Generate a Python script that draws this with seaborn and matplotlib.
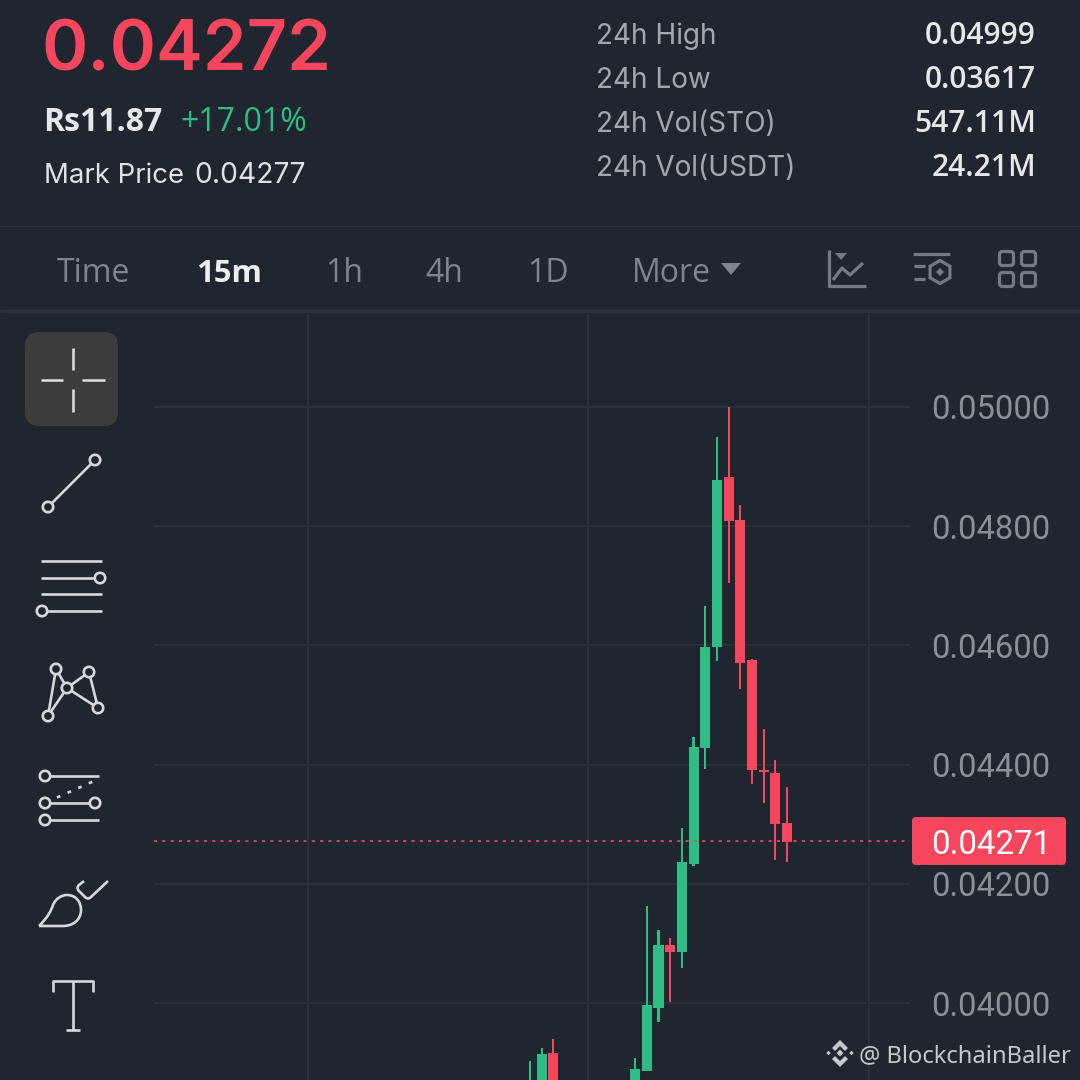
import numpy as np
import pandas as pd
import seaborn as sns
import matplotlib
matplotlib.use("Agg")
import matplotlib.pyplot as plt
from matplotlib.patches import FancyBboxPatch, Circle, Polygon, PathPatch
from matplotlib.path import Path

# ---- data (prices; candles below the view are estimated) ----
candle_idx = [0, 1, 2, 9, 10, 11, 12, 13, 14, 15, 16, 17, 18, 19, 20, 21, 22]
open_p  = [0.03820, 0.03850, 0.039161, 0.03840, 0.038859, 0.039916, 0.040973, 0.040856, 0.042332, 0.044279, 0.045973, 0.048826, 0.048104, 0.045755, 0.043909, 0.043859, 0.04302]
close_p = [0.03850, 0.039144, 0.03850, 0.038893, 0.039966, 0.040973, 0.040856, 0.042366, 0.044295, 0.045973, 0.048775, 0.048087, 0.045705, 0.043909, 0.043876, 0.043003, 0.042701]
high_p  = [0.039027, 0.039245, 0.039396, 0.039077, 0.041628, 0.041225, 0.041091, 0.042936, 0.044463, 0.046661, 0.049497, 0.05000, 0.048356, 0.045772, 0.044597, 0.044077, 0.043624]
low_p   = [0.03810, 0.03830, 0.03830, 0.03820, 0.038859, 0.039681, 0.040017, 0.040587, 0.042299, 0.043926, 0.045738, 0.047047, 0.045268, 0.043674, 0.043356, 0.042399, 0.042366]

y_ticks = [0.05, 0.048, 0.046, 0.044, 0.042, 0.04]
y_tick_labels = ["0.05000", "0.04800", "0.04600", "0.04400", "0.04200", "0.04000"]
x_grid = [-19, 5, 29]
last_price = 0.04271
last_label = "0.04271"

headline = "0.04272"
fiat = "Rs11.87"
change = "+17.01%"
mark_label = "Mark Price"
mark_value = "0.04277"
stat_names = ["24h High", "24h Low", "24h Vol(STO)", "24h Vol(USDT)"]
stat_values = ["0.04999", "0.03617", "547.11M", "24.21M"]
tabs = ["Time", "15m", "1h", "4h", "1D", "More"]
tab_x = [57, 196, 325, 425, 527, 632]
watermark = "@ BlockchainBaller"

# ---- style ----
BG = "#1f2630"
GRID = "#2b323c"
GREEN = "#2EBD85"
RED = "#F6465D"
GREY = "#8b8f96"
LABEL = "#a4a8ae"
TAB = "#7f8590"
ICON = "#d6d8db"
TOP_ICON = "#747a85"
INTER = ["Inter", "DejaVu Sans"]
OPEN = ["Open Sans", "DejaVu Sans"]
W, H = 1080, 1080

sns.set_theme(style="dark", rc={"axes.facecolor": BG, "figure.facecolor": BG})
plt.rcParams["font.family"] = INTER

fig = plt.figure(figsize=(W / 100, H / 100), dpi=100, facecolor=BG)

# ---- chart axes ----
ax = fig.add_axes([154 / W, 0, (910 - 154) / W, (1080 - 312) / H], facecolor=BG)

df = pd.DataFrame({"i": candle_idx, "o": open_p, "c": close_p, "h": high_p, "l": low_p})
df["top"] = df[["o", "c"]].max(axis=1)
df["bot"] = df[["o", "c"]].min(axis=1)
df["up"] = df["c"] >= df["o"]
df = df.sort_values("i")

for is_up, colour in [(True, GREEN), (False, RED)]:
    part = df[df["up"] == is_up].copy()
    part["wick"] = part["h"] - part["l"]
    part["body"] = part["top"] - part["bot"]
    sns.barplot(data=part, x="i", y="wick", bottom=part["l"].to_numpy(), native_scale=True,
                width=0.18, color=colour, saturation=1, errorbar=None, linewidth=0, ax=ax, zorder=3)
    sns.barplot(data=part, x="i", y="body", bottom=part["bot"].to_numpy(), native_scale=True,
                width=0.86, color=colour, saturation=1, errorbar=None, linewidth=0, ax=ax, zorder=4)

ax.hlines(last_price, -32.19, 32.53, color=RED, lw=1.3, alpha=0.9,
          linestyle=(0, (1.7, 2.9)), zorder=5)

ax.set_xlim(-32.19, 32.53)
ax.set_ylim(0.05 - 673 / 59600, 0.05 + 95 / 59600)
ax.set_xlabel("")
ax.set_ylabel("")
ax.set_xticks(x_grid)
ax.set_xticklabels([])
ax.yaxis.tick_right()
ax.set_yticks(y_ticks)
ax.set_yticklabels(y_tick_labels, fontfamily="Roboto", fontsize=23.6, color=GREY)
ax.tick_params(axis="both", length=0)
ax.tick_params(axis="y", pad=15.2)
ax.grid(True, color=GRID, lw=1.4)
ax.set_axisbelow(True)
for s in ax.spines.values():
    s.set_visible(False)

# ---- overlay in pixel coordinates for the app chrome ----
ov = fig.add_axes([0, 0, 1, 1], facecolor="none", zorder=10)
ov.set_xlim(0, W)
ov.set_ylim(H, 0)
ov.axis("off")


def txt(x, y, s, size_px, color, weight="normal", ha="left", family=None, va="baseline"):
    ov.text(x, y, s, fontsize=size_px * 0.72, color=color, fontweight=weight, ha=ha, va=va,
            family=family or INTER)


def line(xs, ys, color=ICON, lw=1.9, **kw):
    ov.plot(xs, ys, color=color, lw=lw, solid_capstyle=kw.pop("cap", "butt"),
            solid_joinstyle="round", **kw)


def ring(x, y, r=5.2, color=ICON, lw=1.9):
    ov.add_patch(Circle((x, y), r, fc=BG, ec=color, lw=lw, zorder=3))


# header
txt(41.5, 70.5, headline, 70.3, RED, "semibold")
txt(43, 131, fiat, 32, "#e6e8ea", "bold", family=OPEN)
txt(180.5, 131, change, 32, GREEN, family=OPEN)
txt(44, 183, mark_label, 27.6, "#e0e2e5")
txt(194, 183, mark_value, 28.3, "#e0e2e5")
for k, (n, v) in enumerate(zip(stat_names, stat_values)):
    yy = 44.5 + 44 * k
    txt(596, yy, n, 27.9, LABEL)
    txt(1036, yy, v, 30, "#e6e8ea", "semibold", ha="right", family=OPEN)

# separators
line([0, W], [226, 226], color="#2e353f", lw=1.0)
line([0, W], [311, 311], color="#2a313b", lw=2.2)

# tabs
for name, x in zip(tabs, tab_x):
    if name == "15m":
        txt(x, 282, name, 31, "#eceef0", "bold", family=OPEN)
    else:
        txt(x, 282, name, 32, TAB, family=OPEN)
ov.add_patch(Polygon([(721, 263), (741, 263), (731, 275)], closed=True, fc=TAB, ec="none"))

# top right icons
line([829, 829, 866], [250, 286, 286], color=TOP_ICON, lw=2.3)
ov.add_patch(Polygon([(835, 253), (847, 253), (841, 260)], closed=True, fc=TOP_ICON, ec="none"))
line([833, 842, 850, 863], [280, 268, 275, 263], color=TOP_ICON, lw=2.3)
line([913, 950], [254, 254], color=TOP_ICON, lw=2.3)
line([914, 925], [266, 266], color=TOP_ICON, lw=2.3)
line([914, 925], [279, 279], color=TOP_ICON, lw=2.3)
ang = np.radians([90, 150, 210, 270, 330, 30])
ov.add_patch(Polygon(np.c_[940 + 11.5 * np.cos(ang), 272 + 11.5 * np.sin(ang)], closed=True,
                     fc="none", ec=TOP_ICON, lw=2.3))
ov.add_patch(Polygon([(940, 268), (944, 272), (940, 276), (936, 272)], closed=True, fc=TOP_ICON, ec="none"))
for x0 in (999.5, 1021.5):
    for y0 in (251.5, 272.5):
        ov.add_patch(FancyBboxPatch((x0 + 2, y0 + 2), 10, 10, boxstyle="round,pad=2,rounding_size=3",
                                    fc="none", ec=TOP_ICON, lw=2.3))

# left toolbar
ov.add_patch(FancyBboxPatch((37, 344), 69, 70, boxstyle="round,pad=12,rounding_size=14",
                            fc="#3c3c3d", ec="none"))
line([73, 73], [348, 370])
line([73, 73], [389, 412])
line([41, 63], [380, 380])
line([82, 105], [380, 380])

line([48, 95], [507, 460])
ring(48, 507)
ring(95, 460)

line([41, 102], [561, 561])
line([41, 100], [578, 578])
ring(100, 578)
line([41, 102], [594, 594])
line([42, 102], [611, 611])
ring(42, 611)

pts = {"a": (56, 669), "b": (89, 672), "c": (67, 688), "d": (48, 716), "e": (98, 708)}
for p, q in ["da", "ac", "dc", "cb", "be", "ce"]:
    line([pts[p][0], pts[q][0]], [pts[p][1], pts[q][1]])
for p in pts.values():
    ring(*p)

line([45, 99], [776, 776])
ring(45, 776)
line([45, 95], [803, 803])
ring(45, 803)
ring(95, 803)
line([45, 99], [820, 820])
ring(45, 820)
ov.plot([57, 94], [797.5, 781], color=ICON, lw=1.9, linestyle=(0, (1.4, 3.0)))

brush = Path([(39, 926), (48, 917), (51, 911), (53, 905), (56, 898), (62, 895), (67, 895),
              (76, 895), (81, 902), (81, 910), (81, 920), (73, 926), (63, 926), (39, 926)],
             [Path.MOVETO] + [Path.CURVE4] * 12 + [Path.LINETO])
ov.add_patch(PathPatch(brush, fc="none", ec=ICON, lw=1.9))
handle = Path([(84, 881), (79, 885), (76, 888), (79, 891), (85, 897), (88, 900), (91, 897), (108, 881)],
              [Path.MOVETO, Path.LINETO, Path.CURVE3, Path.CURVE3, Path.LINETO, Path.CURVE3, Path.CURVE3, Path.LINETO])
ov.add_patch(PathPatch(handle, fc="none", ec=ICON, lw=1.9))

line([53, 53, 93, 93], [992, 981, 981, 992])
line([73, 73], [981, 1030])
line([66, 80], [1030, 1030])

# last price tag
ov.add_patch(FancyBboxPatch((915, 820), 148, 42, boxstyle="round,pad=3,rounding_size=4", fc=RED, ec="none"))
txt(991, 841.5, last_label, 33, "white", ha="center", va="center_baseline", family="Roboto")

# watermark
WM = "#c6c8cb"
for cx, cy, r in [(840, 1053, 3.5), (828.5, 1053, 2.2), (851.5, 1053, 2.2)]:
    ov.add_patch(Polygon([(cx, cy - r), (cx + r, cy), (cx, cy + r), (cx - r, cy)], closed=True, fc=WM, ec="none"))
ov.add_patch(Polygon([(840, 1040), (848, 1048), (845, 1051), (840, 1046), (835, 1051), (832, 1048)],
                     closed=True, fc=WM, ec="none"))
ov.add_patch(Polygon([(840, 1067), (848, 1059), (845, 1056), (840, 1061), (835, 1056), (832, 1059)],
                     closed=True, fc=WM, ec="none"))
txt(859, 1062, watermark, 23.8, WM, family=["Noto Sans", "DejaVu Sans"])

fig.savefig("out.png", dpi=100, facecolor=BG)
